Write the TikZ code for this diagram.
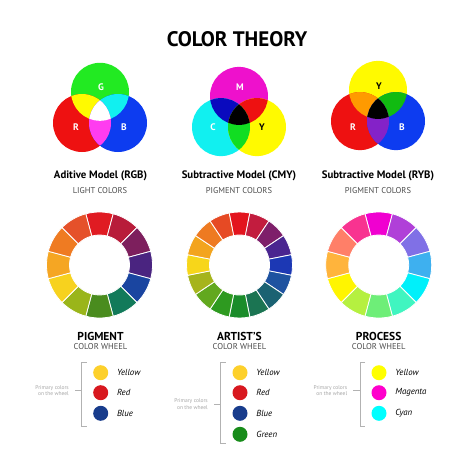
\documentclass[tikz,border=0pt]{standalone}
\usepackage{fontspec}
\setmainfont{PT Sans}
\usepackage{xcolor}
\usetikzlibrary{positioning}

\definecolor{vR}{HTML}{EE1111}
\definecolor{vG}{HTML}{22EA22}
\definecolor{vB}{HTML}{0D3CF0}
\definecolor{vC}{HTML}{11F0F0}
\definecolor{vM}{HTML}{EE11CC}
\definecolor{vY}{HTML}{FFFA00}
\definecolor{vMag}{HTML}{FF3CF0}
\definecolor{vNavy}{HTML}{0A0ABE}
\definecolor{vGreen}{HTML}{11DD22}
\definecolor{vOrange}{HTML}{FF9A00}
\definecolor{vLeaf}{HTML}{11BB11}
\definecolor{vPurple}{HTML}{8422C8}
\definecolor{dYellow}{HTML}{FDD02B}
\definecolor{dRed}{HTML}{D8181F}
\definecolor{dBlue}{HTML}{183C8C}
\definecolor{dGreen}{HTML}{188C1A}
\definecolor{dCyan}{HTML}{00FFFF}
\definecolor{dMagenta}{HTML}{FF00CC}
\definecolor{dLemon}{HTML}{FFFF00}

\tikzset{
  vlabel/.style={font=\bfseries\fontsize{9.5}{11}\selectfont, text=white, inner sep=0pt},
  model/.style={font=\bfseries\fontsize{10.8}{13}\selectfont, inner sep=0pt},
  sub/.style={font=\fontsize{8.5}{10}\selectfont, text=black!70, inner sep=0pt},
  wheeltitle/.style={font=\bfseries\fontsize{11.5}{13}\selectfont, inner sep=0pt},
  dot/.style={circle, minimum size=15pt, inner sep=0pt},
  lbl/.style={font=\itshape\fontsize{8.8}{10}\selectfont, inner sep=0pt},
  note/.style={font=\fontsize{5.5}{6.5}\selectfont, text=black!35, align=right, inner sep=0pt},
  brace/.style={draw=black!30, line width=0.6pt},
  seg/.style={draw=white, line width=0.8pt},
}

\begin{document}
\begin{tikzpicture}[x=1pt, y=1pt]
  \useasboundingbox[fill=white] (0,0) rectangle (474,-474);

  \node[font=\bfseries\fontsize{21}{24}\selectfont, inner sep=0pt] (title) at (237,-39) {COLOR THEORY};

  % additive RGB
  \coordinate (rgbG) at (100,-91.8);
  \coordinate (rgbR) at (82,-123);
  \coordinate (rgbB) at (118,-123);
  \fill[vG] (rgbG) circle[radius=29];
  \fill[vR] (rgbR) circle[radius=29];
  \fill[vB] (rgbB) circle[radius=29];
  \begin{scope} \clip (rgbG) circle[radius=29]; \fill[vY] (rgbR) circle[radius=29]; \end{scope}
  \begin{scope} \clip (rgbG) circle[radius=29]; \fill[vC] (rgbB) circle[radius=29]; \end{scope}
  \begin{scope} \clip (rgbR) circle[radius=29]; \fill[vMag] (rgbB) circle[radius=29]; \end{scope}
  \begin{scope} \clip (rgbG) circle[radius=29]; \clip (rgbR) circle[radius=29]; \fill[white] (rgbB) circle[radius=29]; \end{scope}
  \node[vlabel] (rgbGl) at (101,-87) {G};
  \node[vlabel] (rgbRl) at (76,-127) {R};
  \node[vlabel] (rgbBl) at (124,-127) {B};

  % subtractive CMY
  \coordinate (cmyM) at (239,-95.9);
  \coordinate (cmyC) at (221,-127.1);
  \coordinate (cmyY) at (257,-127.1);
  \fill[vM] (cmyM) circle[radius=29];
  \fill[vC] (cmyC) circle[radius=29];
  \fill[vY] (cmyY) circle[radius=29];
  \begin{scope} \clip (cmyM) circle[radius=29]; \fill[vNavy] (cmyC) circle[radius=29]; \end{scope}
  \begin{scope} \clip (cmyM) circle[radius=29]; \fill[vR] (cmyY) circle[radius=29]; \end{scope}
  \begin{scope} \clip (cmyC) circle[radius=29]; \fill[vGreen] (cmyY) circle[radius=29]; \end{scope}
  \begin{scope} \clip (cmyM) circle[radius=29]; \clip (cmyC) circle[radius=29]; \fill[black] (cmyY) circle[radius=29]; \end{scope}
  \node[vlabel] (cmyMl) at (240,-87) {M};
  \node[vlabel] (cmyCl) at (213,-127) {C};
  \node[vlabel, text=black] (cmyYl) at (262,-127) {Y};

  % subtractive RYB
  \coordinate (rybY) at (378,-89.9);
  \coordinate (rybR) at (360,-121.1);
  \coordinate (rybB) at (396,-121.1);
  \fill[vY] (rybY) circle[radius=29];
  \fill[vR] (rybR) circle[radius=29];
  \fill[vB] (rybB) circle[radius=29];
  \begin{scope} \clip (rybY) circle[radius=29]; \fill[vOrange] (rybR) circle[radius=29]; \end{scope}
  \begin{scope} \clip (rybY) circle[radius=29]; \fill[vLeaf] (rybB) circle[radius=29]; \end{scope}
  \begin{scope} \clip (rybR) circle[radius=29]; \fill[vPurple] (rybB) circle[radius=29]; \end{scope}
  \begin{scope} \clip (rybY) circle[radius=29]; \clip (rybR) circle[radius=29]; \fill[black] (rybB) circle[radius=29]; \end{scope}
  \node[vlabel, text=black] (rybYl) at (379,-86) {Y};
  \node[vlabel] (rybRl) at (353,-127) {R};
  \node[vlabel] (rybBl) at (402,-127) {B};

  \node[model] (rgbt) at (100.5,-176) {Aditive Model (RGB)};
  \node[sub] (rgbs) at (100,-191) {LIGHT COLORS};
  \node[model] (cmyt) at (239,-176) {Subtractive Model (CMY)};
  \node[sub] (cmys) at (239,-191) {PIGMENT COLORS};
  \node[model] (rybt) at (378,-176) {Subtractive Model (RYB)};
  \node[sub] (rybs) at (378,-191) {PIGMENT COLORS};

  % wheels
  \coordinate (pw) at (99.5,-265);
  \coordinate (aw) at (239.5,-265);
  \coordinate (cw) at (378.7,-265);
  \begin{scope}[shift={(pw)}]
    \foreach \hx [count=\i from 0] in {E01B22,B81C3A,7D1F5D,4A2480,1A45A0,127A5A,4A8C1E,9AB51A,F7D21E,F5A623,EF7B22,E5512A} {
      \definecolor{segc}{HTML}{\hx}
      \pgfmathsetmacro{\a}{90-\i*30}
      \filldraw[seg, fill=segc] (\a+15:53) arc[start angle=\a+15, end angle=\a-15, radius=53] -- (\a-15:30) arc[start angle=\a-15, end angle=\a+15, radius=30] -- cycle;
    }
  \end{scope}
  \begin{scope}[shift={(aw)}]
    \foreach \hx [count=\i from 0] in {E3141E,C21C3E,7E1F6A,4A2590,1C38B4,1E52A0,1B6272,1B7452,1A8C2A,2E9A20,62A81E,A6B41C,F7D61A,F3A41E,EE7A21,E64A24} {
      \definecolor{segc}{HTML}{\hx}
      \pgfmathsetmacro{\a}{90-\i*22.5}
      \filldraw[seg, fill=segc] (\a+11.25:53) arc[start angle=\a+11.25, end angle=\a-11.25, radius=53] -- (\a-11.25:30) arc[start angle=\a-11.25, end angle=\a+11.25, radius=30] -- cycle;
    }
  \end{scope}
  \begin{scope}[shift={(cw)}]
    \foreach \hx [count=\i from 0] in {F000D0,B040D8,8070E6,3EB0EF,00F0FA,40F5C0,6EEE78,B5F040,FFF500,FFB43C,FF7F68,F83390} {
      \definecolor{segc}{HTML}{\hx}
      \pgfmathsetmacro{\a}{90-\i*30}
      \filldraw[seg, fill=segc] (\a+15:53) arc[start angle=\a+15, end angle=\a-15, radius=53] -- (\a-15:30) arc[start angle=\a-15, end angle=\a+15, radius=30] -- cycle;
    }
  \end{scope}

  \node[wheeltitle] (pwt) at (100.5,-336) {PIGMENT};
  \node[sub] (pws) at (100.5,-347) {COLOR WHEEL};
  \node[wheeltitle] (awt) at (239.5,-336) {ARTIST'S};
  \node[sub] (aws) at (239.5,-347) {COLOR WHEEL};
  \node[wheeltitle] (cwt) at (378.7,-336) {PROCESS};
  \node[sub] (cws) at (378.7,-347) {COLOR WHEEL};

  % legends
  \node[dot, fill=dYellow] (py) at (100.7,-372.7) {};
  \node[dot, fill=dRed] (pr) at (100.7,-392.7) {};
  \node[dot, fill=dBlue] (pb) at (100.7,-413.3) {};
  \node[lbl, right=8.5pt of py] (pyl) {Yellow};
  \node[lbl, right=8.5pt of pr] (prl) {Red};
  \node[lbl, right=8.5pt of pb] (pbl) {Blue};
  \node[note, anchor=east] (pnote) at (69,-390.5) {Primary colors\\on the wheel};
  \coordinate (pbt) at (81.7,-362.7);
  \coordinate (pbb) at (81.7,-426);
  \draw[brace] ([xshift=5pt]pbt) -- (pbt) -- (pbb) -- ([xshift=5pt]pbb);
  \draw[brace] ([xshift=6pt]pnote.east) -- (pnote.east -| pbt);

  \node[dot, fill=dYellow] (ay) at (240,-372.7) {};
  \node[dot, fill=dRed] (ar) at (240,-392.7) {};
  \node[dot, fill=dBlue] (ab) at (240,-413.3) {};
  \node[dot, fill=dGreen] (ag) at (240,-434.3) {};
  \node[lbl, right=8.5pt of ay] (ayl) {Yellow};
  \node[lbl, right=8.5pt of ar] (arl) {Red};
  \node[lbl, right=8.5pt of ab] (abl) {Blue};
  \node[lbl, right=8.5pt of ag] (agl) {Green};
  \node[note, anchor=east] (anote) at (208,-404) {Primary colors\\on the wheel};
  \coordinate (abt) at (220.7,-362.7);
  \coordinate (abb) at (220.7,-443.3);
  \draw[brace] ([xshift=5pt]abt) -- (abt) -- (abb) -- ([xshift=5pt]abb);
  \draw[brace] ([xshift=6pt]anote.east) -- (anote.east -| abt);

  \node[dot, fill=dLemon] (cy) at (379,-372.7) {};
  \node[dot, fill=dMagenta] (cm) at (379,-392.7) {};
  \node[dot, fill=dCyan] (cc) at (379,-413.3) {};
  \node[lbl, right=8.5pt of cy] (cyl) {Yellow};
  \node[lbl, right=8.5pt of cm] (cml) {Magenta};
  \node[lbl, right=8.5pt of cc] (ccl) {Cyan};
  \node[note, anchor=east] (cnote) at (347.3,-390.5) {Primary colors\\on the wheel};
  \coordinate (cbt) at (360,-362.7);
  \coordinate (cbb) at (360,-426);
  \draw[brace] ([xshift=5pt]cbt) -- (cbt) -- (cbb) -- ([xshift=5pt]cbb);
  \draw[brace] ([xshift=6pt]cnote.east) -- (cnote.east -| cbt);
\end{tikzpicture}
\end{document}
